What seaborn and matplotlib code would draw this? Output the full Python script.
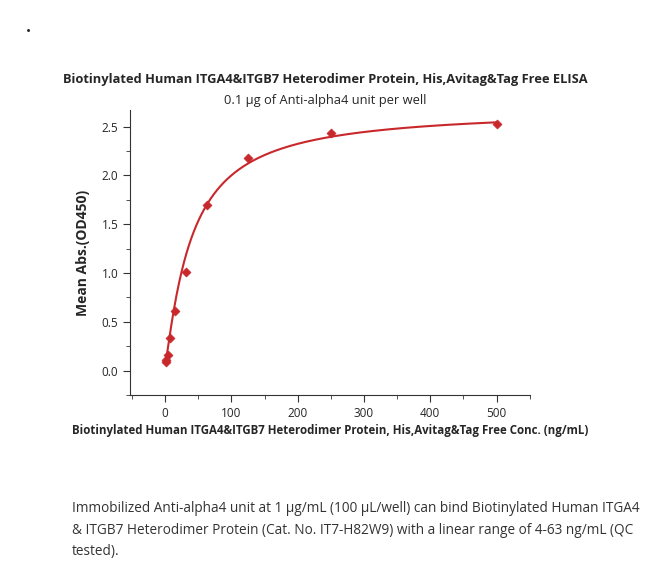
import numpy as np
import pandas as pd
import matplotlib
matplotlib.use('Agg')
import matplotlib.pyplot as plt
import seaborn as sns
from matplotlib.ticker import MultipleLocator

conc = [0.98, 1.95, 3.9, 7.8, 15.6, 31.25, 62.5, 125, 250, 500]
od450 = [0.09, 0.11, 0.16, 0.33, 0.61, 1.01, 1.70, 2.18, 2.43, 2.53]

# 4PL fit parameters (estimated)
bottom, top, ec50, hill = 0.05, 2.68, 40.0, 1.15

df = pd.DataFrame({'conc': conc, 'od': od450})
xf = np.linspace(0.98, 500, 400)
fit = pd.DataFrame({'conc': xf, 'od': bottom + (top - bottom) * (xf / ec50) ** hill / (1 + (xf / ec50) ** hill)})

sns.set_style('white')
plt.rcParams['font.family'] = ['Open Sans', 'DejaVu Sans']
red = '#c8282c'

fig = plt.figure(figsize=(6.5, 5.61), dpi=100)
ax = fig.add_axes([0.2, 0.296, 0.615, 0.508])
sns.lineplot(data=fit, x='conc', y='od', color=red, linewidth=1.5, ax=ax)
sns.scatterplot(data=df, x='conc', y='od', color=red, marker='D', s=22, edgecolor=red, ax=ax, zorder=3)

ax.set_xlim(-53, 550)
ax.set_ylim(-0.25, 2.67)
ax.set_xticks([0, 100, 200, 300, 400, 500])
ax.set_yticks([0, 0.5, 1.0, 1.5, 2.0, 2.5])
ax.set_yticklabels(['0.0', '0.5', '1.0', '1.5', '2.0', '2.5'])
ax.xaxis.set_minor_locator(MultipleLocator(50))
ax.yaxis.set_minor_locator(MultipleLocator(0.25))
ax.tick_params(which='both', direction='out', left=True, bottom=True, labelsize=8.5, color='#333333')
ax.tick_params(which='major', length=5)
ax.tick_params(which='minor', length=3)
for s in ['top', 'right']:
    ax.spines[s].set_visible(False)
ax.spines['left'].set_color('#333333')
ax.spines['bottom'].set_color('#333333')

ax.set_xlabel('Biotinylated Human ITGA4&ITGB7 Heterodimer Protein, His,Avitag&Tag Free Conc. (ng/mL)',
              fontsize=8.3, fontweight='bold', labelpad=3)
ax.set_ylabel('Mean Abs.(OD450)', fontsize=10, fontweight='bold', labelpad=8)

fig.text(0.5, 0.852, 'Biotinylated Human ITGA4&ITGB7 Heterodimer Protein, His,Avitag&Tag Free ELISA',
         ha='center', fontsize=9.3, fontweight='bold')
fig.text(0.5, 0.815, '0.1 μg of Anti-alpha4 unit per well', ha='center', fontsize=9.3)
fig.text(0.04, 0.935, '•', fontsize=10)
fig.text(0.11, 0.01,
         'Immobilized Anti-alpha4 unit at 1 μg/mL (100 μL/well) can bind Biotinylated Human ITGA4\n'
         '& ITGB7 Heterodimer Protein (Cat. No. IT7-H82W9) with a linear range of 4-63 ng/mL (QC\n'
         'tested).', fontsize=9.8, color='#333333', linespacing=1.6)

fig.savefig('out.png', dpi=100)
